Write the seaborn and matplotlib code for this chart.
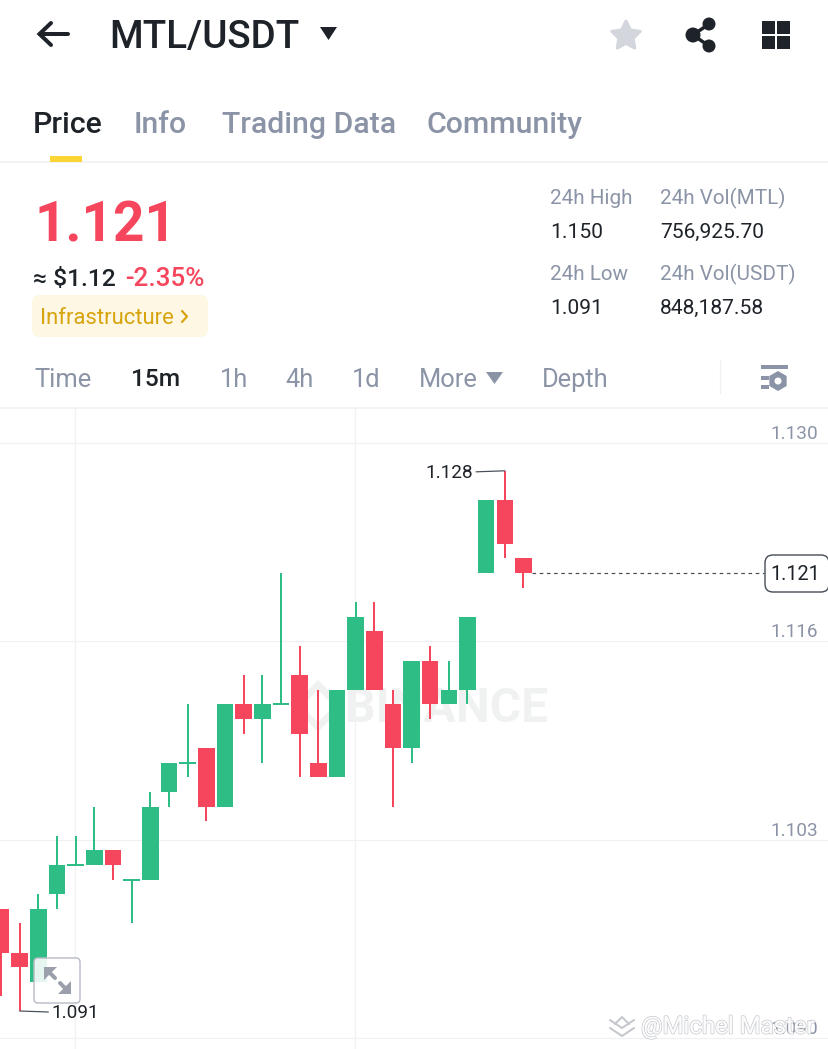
import numpy as np
import pandas as pd
import matplotlib
matplotlib.use("Agg")
import matplotlib.pyplot as plt
import matplotlib.patheffects as pe
from matplotlib.patches import FancyBboxPatch, Polygon, Circle, Rectangle, RegularPolygon
from matplotlib.transforms import ScaledTranslation
import seaborn as sns

# ---- data (prices) ----
opens  = [1.098,1.095,1.093,1.099,1.101,1.101,1.102,1.100,1.100,1.106,1.108,1.109,1.105,1.112,1.111,1.112,1.114,1.108,1.107,1.113,1.117,1.112,1.109,1.115,1.112,1.113,1.121,1.126,1.122]
closes = [1.095,1.094,1.098,1.101,1.101,1.102,1.101,1.100,1.105,1.108,1.108,1.105,1.112,1.111,1.112,1.112,1.110,1.107,1.113,1.118,1.113,1.109,1.115,1.112,1.113,1.118,1.126,1.123,1.121]
highs  = [1.098,1.097,1.099,1.103,1.103,1.105,1.102,1.100,1.106,1.108,1.112,1.109,1.112,1.114,1.114,1.121,1.116,1.113,1.113,1.119,1.119,1.113,1.115,1.116,1.115,1.118,1.126,1.128,1.122]
lows   = [1.092,1.091,1.093,1.098,1.101,1.101,1.100,1.097,1.100,1.105,1.107,1.104,1.105,1.110,1.108,1.112,1.107,1.107,1.107,1.113,1.113,1.105,1.108,1.111,1.112,1.112,1.121,1.122,1.120]
grid_prices = [1.12987, 1.11631, 1.10271, 1.08915]
grid_labels = ["1.130", "1.116", "1.103", "1.090"]
time_ticks = [3.97, 18.97]
last_price = 1.121
pair = "MTL/USDT"
tabs = ["Price", "Info", "Trading Data", "Community"]
intervals = ["Time", "15m", "1h", "4h", "1d", "More", "Depth"]
stat_labels = ["24h High", "24h Low", "24h Vol(MTL)", "24h Vol(USDT)"]
stat_values = ["1.150", "1.091", "756,925.70", "848,187.58"]

GREEN, RED = "#2EBD85", "#F6465D"
DARK, GREY = "#1E2329", "#8B94A6"
GRID = "#F0F1F5"
FONT = "Roboto"
PX = 72 / 100  # one pixel in points

sns.set_theme(style="white", rc={"font.family": [FONT, "DejaVu Sans"]})
fig = plt.figure(figsize=(8.29, 10.49), dpi=100, facecolor="white")

def pixel_axes(z):
    a = fig.add_axes([0, 0, 1, 1], zorder=z)
    a.set_xlim(0, 829); a.set_ylim(1049, 0); a.axis("off"); a.patch.set_alpha(0)
    return a

bg, top = pixel_axes(0), pixel_axes(2)
ax = fig.add_axes([0, 0, 1, 641 / 1049], zorder=1, facecolor="none")

def T(a, x, y, s, size, color=DARK, weight="normal", ha="left", va="center", **kw):
    return a.text(x, y + 2, s, fontsize=size * PX, color=color, fontweight=weight,
                  ha=ha, va=va, family=[FONT, "DejaVu Sans"], **kw)

# ---- candles ----
df = pd.DataFrame({"i": range(len(opens)), "o": opens, "c": closes, "h": highs, "l": lows})
df["up"] = df.c >= df.o
df["bot"] = df[["o", "c"]].min(axis=1)
df["hgt"] = (df.o - df.c).abs()
df["col"] = np.where(df.up, GREEN, RED)

ax.vlines(df.i, df.l, df.h, colors=df.col, lw=2 * PX, zorder=3)
for color, sub in df[df.hgt > 0].groupby("col"):
    sns.barplot(data=sub, x="i", y="hgt", native_scale=True, color=color, saturation=1,
                width=0.89, errorbar=None, bottom=sub.bot.values, linewidth=0,
                ax=ax, zorder=4)
doji = df[df.hgt == 0]
ax.hlines(doji.c, doji.i - 0.445, doji.i + 0.445, colors=GREEN, lw=2 * PX, zorder=4)

ax.set_xlim(-1 / 18.66, 828 / 18.66)
ax.set_ylim(1.121 - 476 / 14600, 1.121 + 165 / 14600)
ax.set_xlabel(""); ax.set_ylabel("")
ax.set_xticks(time_ticks); ax.set_xticklabels([])
ax.set_yticks(grid_prices); ax.set_yticklabels(grid_labels)
ax.yaxis.tick_right()
ax.tick_params(axis="both", length=0)
ax.tick_params(axis="y", pad=-11 * PX, labelsize=19 * PX, labelcolor=GREY)
ax.grid(True, color=GRID, lw=1.2 * PX, zorder=0)
ax.set_axisbelow(True)
for s in ax.spines.values():
    s.set_visible(False)
shift = ScaledTranslation(0, 0.3 / 72, fig.dpi_scale_trans)
for lab in ax.get_yticklabels():
    lab.set_ha("right"); lab.set_va("bottom")
    lab.set_transform(lab.get_transform() + shift)

# high / low callouts and last price line
ihi, ilo = int(np.argmax(highs)), int(np.argmin(lows))
for i, p, dx, ha in [(ihi, highs[ihi], -32, "right"), (ilo, lows[ilo], 32, "left")]:
    ax.annotate(f"{p:.3f}", xy=(i, p), xytext=(dx * PX, 0), textcoords="offset points",
                ha=ha, va="center_baseline", fontsize=19 * PX, color=DARK, zorder=6,
                arrowprops=dict(arrowstyle="-", color="#474D57", lw=1.2 * PX,
                                shrinkA=0, shrinkB=0))
ax.hlines(last_price, len(opens) - 1 + 0.45, 763 / 18.66, colors="#474D57",
          lw=1.2 * PX, linestyles=(0, (3, 3)), zorder=2)

# ---- watermark behind the candles ----
T(bg, 345, 707, "BINANCE", 48, color="#F0F1F1", weight="bold", zorder=1)
bg.add_patch(RegularPolygon((318, 706), 4, radius=21, orientation=0, fc="none",
                            ec="#F0F1F1", lw=7 * PX))

# ---- header ----
top.plot([40, 68], [34, 34], color=DARK, lw=4 * PX, solid_capstyle="round")
top.plot([51, 39.5, 51], [23, 34, 45], color=DARK, lw=4 * PX, solid_capstyle="round",
         solid_joinstyle="miter")
T(top, 109, 35, pair, 38.5, weight="medium")
top.add_patch(Polygon([[320, 27], [337, 27], [328.5, 40]], fc=DARK, ec="none"))
ang = np.deg2rad(np.arange(10) * 36 - 90)
rad = np.where(np.arange(10) % 2 == 0, 15, 7.5)
top.add_patch(Polygon(np.c_[626 + rad * np.cos(ang), 36 + rad * np.sin(ang)], fc="#D3D6DC",
                      ec="#D3D6DC", lw=3 * PX, joinstyle="round"))
for a, b in [((693, 35), (709, 24)), ((693, 35), (709, 46))]:
    top.plot([a[0], b[0]], [a[1], b[1]], color=DARK, lw=3.5 * PX)
for c, r in [((693, 35), 7.5), ((709, 24), 6.5), ((709, 46), 6.5)]:
    top.add_patch(Circle(c, r, fc=DARK, ec="none"))
for x0 in (762, 777):
    for y0 in (21, 36):
        top.add_patch(Rectangle((x0, y0), 13, 13, fc=DARK, ec="none"))

# ---- tabs ----
for s, x, c in zip(tabs, [33, 134, 222, 427], [DARK, GREY, GREY, GREY]):
    T(top, x, 123, s, 30.2, color=c, weight="medium")
top.add_patch(Rectangle((50, 156), 32, 6, fc="#FCD535", ec="none", zorder=3))
top.plot([0, 829], [162, 162], color="#EEF0F2", lw=1.5 * PX)

# ---- price block ----
T(top, 35, 224, "1.121", 55, color=RED, weight="bold")
T(top, 33, 277, "≈ $1.12", 24.5, weight="medium")
T(top, 125, 277, "-2.35%", 26, color=RED, weight="medium")
top.add_patch(FancyBboxPatch((38, 301), 164, 30, boxstyle="round,pad=6,rounding_size=8",
                             fc="#FDF7E4", ec="none"))
T(top, 40, 316, "Infrastructure", 22, color="#D8A40E")
top.plot([182, 187, 182], [311, 316.5, 322], color="#D8A40E", lw=2.2 * PX)

for (x, y), s in zip([(550, 196), (550, 272), (660, 196), (660, 272)], stat_labels):
    T(top, x, y, s, 20.6, color=GREY)
for (x, y), s in zip([(550, 230), (550, 306), (660, 230), (660, 306)], stat_values):
    T(top, x, y, s, 21)

# ---- interval row ----
for s, x in zip(intervals, [34, 131, 220, 285, 352, 419, 542]):
    active = s == "15m"
    T(top, x, 378, s, 24.5 if active else 25.5, color=DARK if active else GREY,
      weight="medium" if active else "normal")
top.add_patch(Polygon([[486, 372], [503, 372], [494.5, 384]], fc=GREY, ec="none"))
top.plot([720, 720], [360, 393], color="#EEF0F2", lw=1.2 * PX)
top.add_patch(Rectangle((761, 365), 27, 4, fc=GREY, ec="none"))
top.add_patch(Rectangle((761, 376), 8, 4, fc=GREY, ec="none"))
top.add_patch(Rectangle((761, 385), 8, 4, fc=GREY, ec="none"))
top.add_patch(RegularPolygon((778, 381), 6, radius=10, fc=GREY, ec="none"))
top.add_patch(Circle((778, 381), 3.5, fc="white", ec="none"))
top.plot([0, 829], [408, 408], color="#EEF0F2", lw=1.5 * PX)

# ---- last price badge ----
top.add_patch(FancyBboxPatch((771, 561), 52, 25, boxstyle="round,pad=6,rounding_size=8",
                             fc="white", ec="#474D57", lw=1.4 * PX))
T(top, 795, 573, f"{last_price:.3f}", 20, ha="center")

# ---- expand button ----
top.add_patch(FancyBboxPatch((38, 962), 38, 37, boxstyle="round,pad=4,rounding_size=4",
                             fc=(1, 1, 1, 0.88), ec="#B7BBC6", lw=1.4 * PX))
for xs, ys in [([47, 55], [970, 978]), ([60, 68], [983, 991])]:
    top.plot(xs, ys, color="#9A9FAB", lw=4 * PX)
top.add_patch(Polygon([[44, 967], [57, 967], [44, 980]], fc="#9A9FAB", ec="none"))
top.add_patch(Polygon([[71, 994], [58, 994], [71, 981]], fc="#9A9FAB", ec="none"))

# ---- author watermark ----
wm = T(top, 641, 1025, "@Michel Master", 24, color="white", alpha=0.75)
wm.set_path_effects([pe.withStroke(linewidth=1.2, foreground="#B9BCC2"),
                     pe.Normal()])
for dy in (0, 8):
    top.plot([610, 622, 634], [1020 + dy, 1028 + dy, 1020 + dy], color="#C4C7CC", lw=2 * PX)
top.plot([615, 622, 629], [1024, 1017, 1024], color="#C4C7CC", lw=2 * PX)

fig.savefig("out.png", dpi=100)
